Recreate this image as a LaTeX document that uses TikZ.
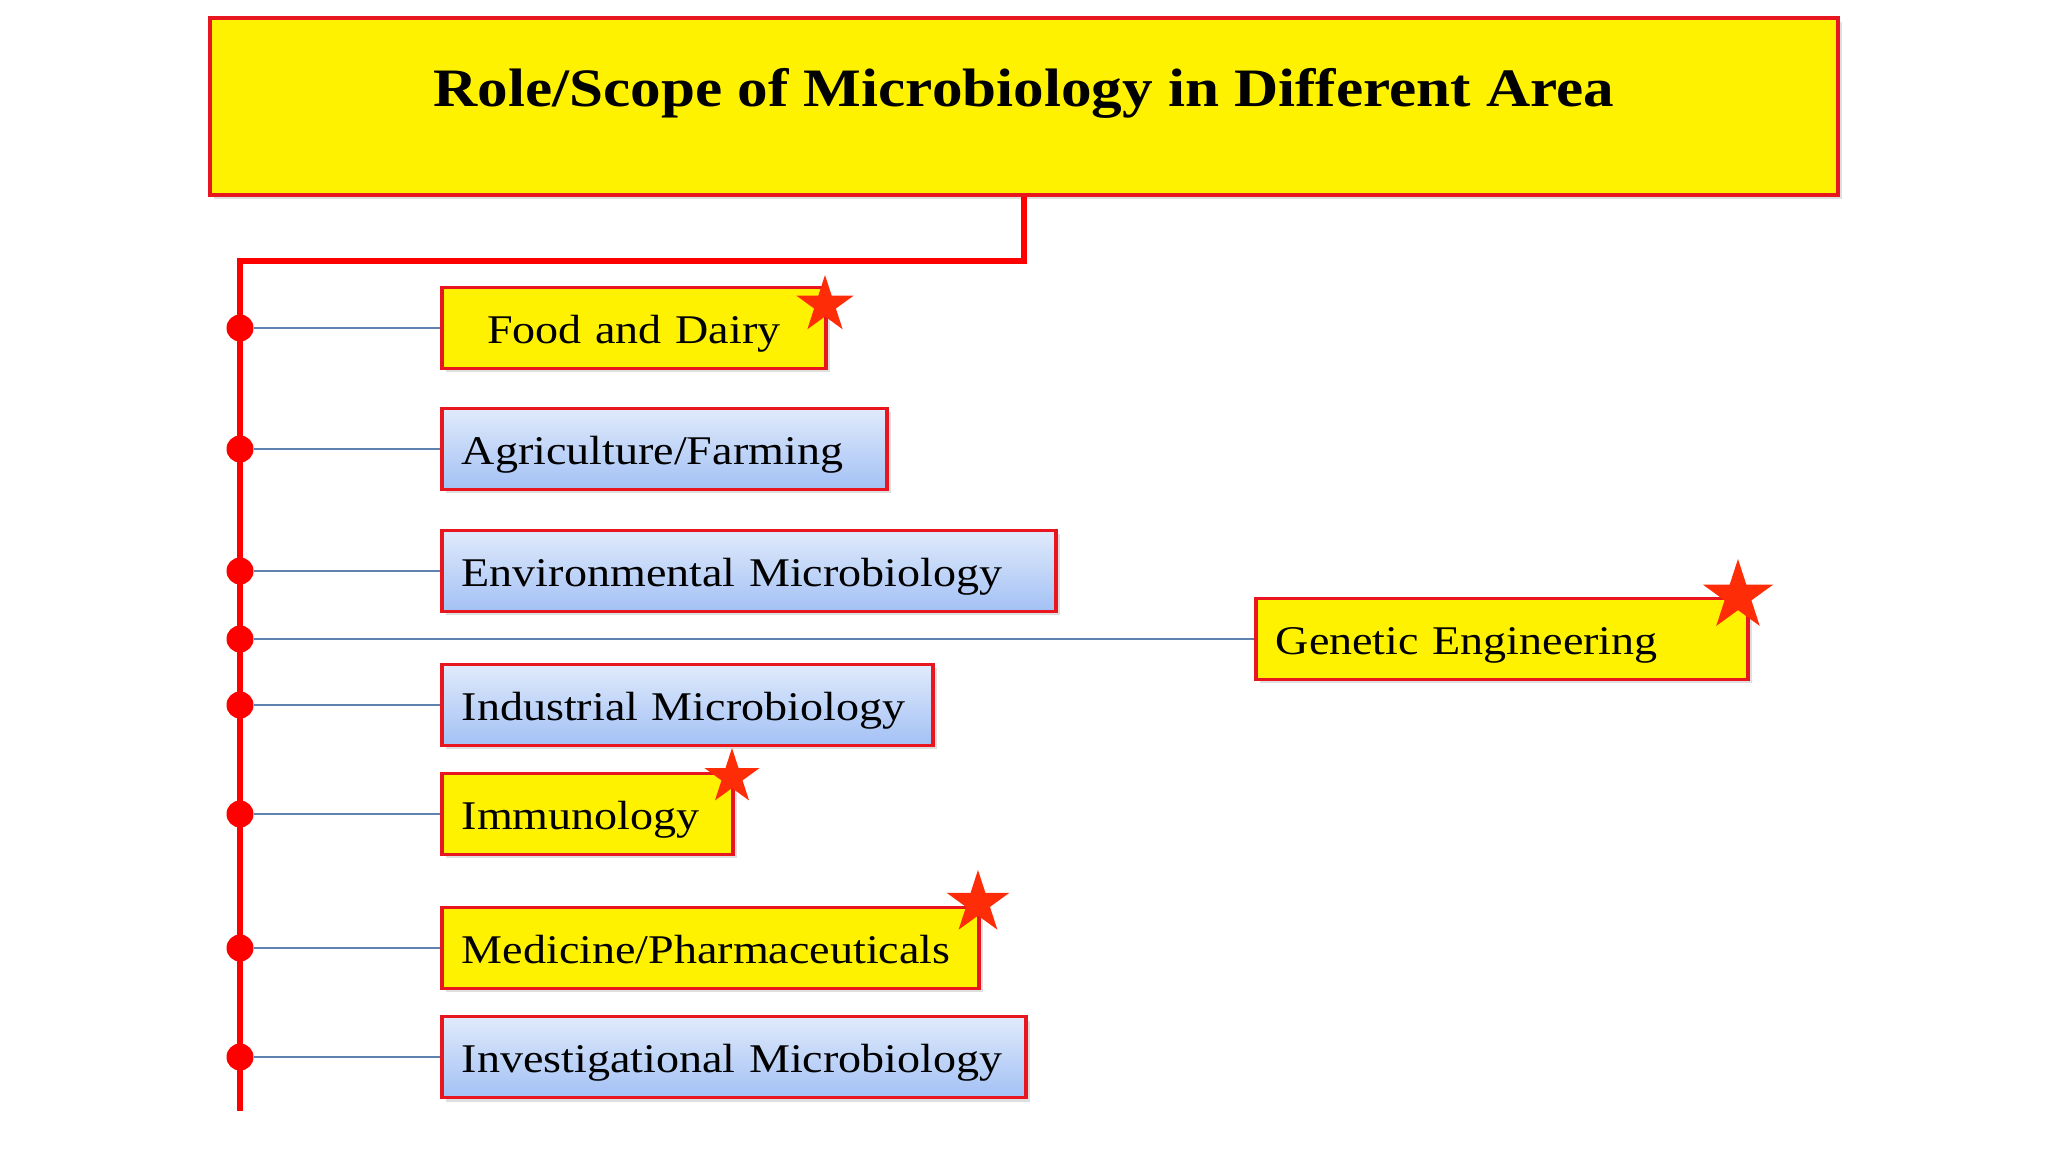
\documentclass[tikz,border=0pt]{standalone}
\usepackage{fontspec}
\setmainfont{Liberation Serif}[FakeStretch=1.13]
\usetikzlibrary{shapes.geometric,shadows}
\definecolor{boxred}{RGB}{232,22,30}
\definecolor{lineblue}{RGB}{96,130,176}
\definecolor{blueTop}{RGB}{224,234,251}
\definecolor{blueBot}{RGB}{163,193,245}
\definecolor{starred}{RGB}{255,44,8}

\begin{document}
\begin{tikzpicture}[
  area/.style={draw=boxred, line width=1pt, minimum height=0.81cm, anchor=west,
    inner xsep=0.2cm, inner ysep=0pt, align=left, text height=0.36cm, text depth=0.05cm,
    font=\fontsize{11.6}{14}\selectfont,
    drop shadow={opacity=0.25, shadow xshift=0.04cm, shadow yshift=-0.04cm}},
  hot/.style={area, fill=yellow},
  cool/.style={area, top color=blueTop, bottom color=blueBot},
  titlebox/.style={draw=boxred, line width=1.2pt, fill=yellow, minimum width=16.28cm,
    minimum height=1.77cm, text height=0.4cm, text depth=0.4cm,
    font=\bfseries\fontsize{15.4}{18}\selectfont,
    drop shadow={opacity=0.25, shadow xshift=0.04cm, shadow yshift=-0.04cm}},
  dot/.style={circle, fill=red, inner sep=0pt, minimum size=0.27cm},
  badge/.style={shape=star, star points=5, star point ratio=2.618, fill=starred, inner sep=0pt},
  trunk/.style={red, line width=1.5pt},
  twig/.style={lineblue, line width=0.8pt}]
  \useasboundingbox (0,0) rectangle (20.48,-11.52);

  \node[titlebox] (title) at (10.24,-1.065) {Role/Scope of Microbiology in Different Area};

  % red spine
  \coordinate (top) at (2.40,-2.61);
  \coordinate (bot) at (2.40,-11.11);
  \draw[trunk] (title.south) |- (top) -- (bot);

  \node[dot] (d1) at (2.40,-3.28) {};
  \node[dot] (d2) at (2.40,-4.49) {};
  \node[dot] (d3) at (2.40,-5.71) {};
  \node[dot] (d4) at (2.40,-6.39) {};
  \node[dot] (d5) at (2.40,-7.05) {};
  \node[dot] (d6) at (2.40,-8.14) {};
  \node[dot] (d7) at (2.40,-9.48) {};
  \node[dot] (d8) at (2.40,-10.57) {};

  \node[hot, text width=3.44cm, align=center] (food) at (4.40,-3.28) {Food and Dairy};
  \node[cool, text width=4.05cm] (agri) at (4.40,-4.49) {Agriculture/Farming};
  \node[cool, text width=5.74cm] (env) at (4.40,-5.71) {Environmental Microbiology};
  \node[hot, text width=4.52cm] (gene) at (12.54,-6.39) {Genetic Engineering};
  \node[cool, text width=4.51cm] (indu) at (4.40,-7.05) {Industrial Microbiology};
  \node[hot, text width=2.51cm] (immu) at (4.40,-8.14) {Immunology};
  \node[hot, text width=4.97cm] (medi) at (4.40,-9.48) {Medicine/Pharmaceuticals};
  \node[cool, text width=5.44cm] (inve) at (4.40,-10.57) {Investigational Microbiology};

  \draw[twig] (d1) -- (food);
  \draw[twig] (d2) -- (agri);
  \draw[twig] (d3) -- (env);
  \draw[twig] (d4) -- (gene);
  \draw[twig] (d5) -- (indu);
  \draw[twig] (d6) -- (immu);
  \draw[twig] (d7) -- (medi);
  \draw[twig] (d8) -- (inve);

  % stars
  \node[badge, minimum size=0.60cm] (s1) at (8.25,-3.05) {};
  \node[badge, minimum size=0.74cm] (s2) at (17.38,-5.96) {};
  \node[badge, minimum size=0.58cm] (s3) at (7.32,-7.77) {};
  \node[badge, minimum size=0.66cm] (s4) at (9.78,-9.03) {};
\end{tikzpicture}
\end{document}
